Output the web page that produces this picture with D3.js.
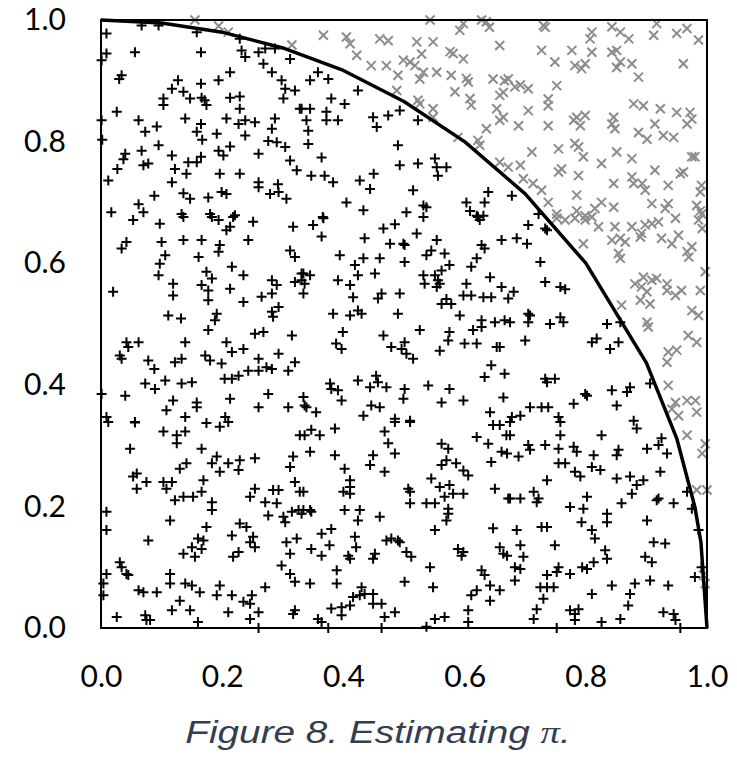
<!DOCTYPE html>
<html>
<head>
<meta charset="utf-8">
<script src="https://cdn.jsdelivr.net/npm/d3@7"></script>
<style>
  body { margin: 0; background: #fff; }
  svg { display: block; }
</style>
</head>
<body>
<svg id="chart"></svg>
<script>
// axis ticks
var xTicks = [0, 0.2, 0.4, 0.6, 0.8, 1.0];
var yTicks = [0, 0.2, 0.4, 0.6, 0.8, 1.0];

// quarter circle line
var curveX = [0, 0.1, 0.2, 0.3, 0.4, 0.5, 0.6, 0.7, 0.8, 0.9, 0.95, 0.98, 0.99, 1.0];
var curveY = [1, 0.995, 0.980, 0.954, 0.917, 0.866, 0.800, 0.714, 0.600, 0.436, 0.312, 0.199, 0.141, 0];

// points inside the circle (black +)
var insidePts = [
  [0.009,0.978],[0.009,0.945],[0.001,0.934],[0.056,0.947],[0.067,0.991],[0.095,0.991],[0.158,0.980],[0.165,0.947],
  [0.229,0.969],[0.232,0.950],[0.238,0.939],[0.260,0.947],[0.271,0.953],[0.287,0.953],[0.268,0.928],[0.282,0.914],
  [0.312,0.936],[0.298,0.901],[0.304,0.887],[0.320,0.884],[0.301,0.871],[0.328,0.854],[0.034,0.909],[0.030,0.903],
  [0.127,0.901],[0.117,0.887],[0.136,0.882],[0.165,0.895],[0.194,0.901],[0.213,0.914],[0.103,0.871],[0.103,0.860],
  [0.147,0.871],[0.166,0.872],[0.171,0.868],[0.174,0.860],[0.213,0.872],[0.229,0.874],[0.229,0.854],[0.026,0.849],
  [0.001,0.835],[0.062,0.835],[0.073,0.816],[0.092,0.825],[0.139,0.838],[0.165,0.829],[0.158,0.816],[0.167,0.803],
  [0.191,0.813],[0.207,0.838],[0.227,0.829],[0.238,0.835],[0.254,0.832],[0.287,0.838],[0.282,0.821],[0.238,0.810],
  [0.276,0.801],[0.290,0.799],[0.304,0.791],[0.002,0.803],[0.040,0.780],[0.037,0.771],[0.067,0.785],[0.078,0.764],
  [0.095,0.794],[0.117,0.777],[0.144,0.766],[0.158,0.766],[0.165,0.775],[0.194,0.785],[0.202,0.777],[0.213,0.792],
  [0.260,0.780],[0.312,0.769],[0.323,0.753],[0.027,0.755],[0.070,0.761],[0.122,0.755],[0.141,0.747],[0.012,0.736],
  [0.117,0.733],[0.196,0.747],[0.229,0.747],[0.260,0.733],[0.260,0.725],[0.292,0.730],[0.293,0.717],[0.306,0.706],
  [0.279,0.714],[0.088,0.711],[0.136,0.715],[0.147,0.706],[0.177,0.708],[0.199,0.717],[0.207,0.714],[0.062,0.697],
  [0.070,0.684],[0.017,0.684],[0.133,0.681],[0.180,0.681],[0.221,0.679],
  [0.345,0.901],[0.358,0.914],[0.375,0.903],[0.424,0.884],[0.380,0.871],[0.402,0.862],[0.331,0.854],[0.345,0.854],
  [0.372,0.849],[0.372,0.835],[0.391,0.835],[0.339,0.835],[0.342,0.818],[0.342,0.796],[0.449,0.840],[0.455,0.824],
  [0.474,0.843],[0.493,0.851],[0.523,0.835],[0.490,0.794],[0.364,0.774],[0.493,0.761],[0.523,0.764],[0.551,0.772],
  [0.554,0.758],[0.570,0.758],[0.556,0.744],[0.347,0.744],[0.369,0.744],[0.383,0.733],[0.427,0.736],[0.444,0.722],
  [0.450,0.747],[0.515,0.720],[0.639,0.717],[0.405,0.700],[0.433,0.687],[0.504,0.684],[0.532,0.695],[0.537,0.692],
  [0.603,0.700],[0.609,0.686],[0.620,0.678],[0.631,0.678],[0.633,0.700],[0.366,0.676],[0.532,0.676],
  [0.678,0.711],[0.722,0.681],
  [0.053,0.671],[0.097,0.665],[0.136,0.676],[0.183,0.676],[0.194,0.671],[0.218,0.676],[0.213,0.660],[0.207,0.654],
  [0.251,0.668],[0.317,0.660],[0.042,0.635],[0.034,0.624],[0.100,0.635],[0.136,0.638],[0.166,0.638],[0.196,0.630],
  [0.194,0.619],[0.243,0.638],[0.312,0.621],[0.320,0.610],[0.106,0.613],[0.097,0.599],[0.161,0.610],[0.216,0.594],
  [0.174,0.586],[0.183,0.575],[0.235,0.580],[0.095,0.580],[0.331,0.583],[0.320,0.569],[0.331,0.572],[0.282,0.572],
  [0.290,0.564],[0.020,0.553],[0.119,0.566],[0.119,0.547],[0.166,0.564],[0.177,0.555],[0.177,0.539],[0.213,0.558],
  [0.235,0.536],[0.265,0.545],[0.282,0.550],[0.293,0.528],[0.282,0.520],[0.284,0.512],[0.111,0.514],[0.132,0.509],
  [0.191,0.517],[0.188,0.506],[0.177,0.490],[0.254,0.484],[0.268,0.487],[0.315,0.481],[0.042,0.470],[0.045,0.462],
  [0.062,0.470],[0.139,0.470],[0.207,0.470],[0.216,0.454],[0.235,0.459],[0.031,0.448],[0.034,0.443],[0.078,0.440],
  [0.088,0.426],[0.122,0.437],[0.133,0.443],[0.172,0.448],[0.180,0.440],[0.199,0.435],[0.260,0.443],[0.260,0.423],
  [0.273,0.429],[0.282,0.426],[0.293,0.451],[0.309,0.423],[0.320,0.437],[0.243,0.423],[0.073,0.402],[0.089,0.393],
  [0.106,0.407],[0.133,0.402],[0.150,0.404],[0.204,0.410],[0.216,0.410],[0.227,0.415],[0.001,0.385],[0.040,0.382],
  [0.119,0.374],[0.108,0.358],[0.158,0.371],[0.158,0.363],[0.213,0.377],[0.276,0.385],[0.260,0.363],[0.309,0.363],
  [0.009,0.347],[0.056,0.338],[0.139,0.347],[0.205,0.347],
  [0.350,0.663],[0.367,0.674],[0.364,0.644],[0.466,0.657],[0.485,0.664],[0.521,0.649],[0.435,0.641],[0.477,0.632],
  [0.499,0.632],[0.501,0.630],[0.622,0.676],[0.625,0.671],[0.554,0.638],[0.545,0.621],[0.537,0.613],[0.567,0.616],
  [0.628,0.630],[0.633,0.624],[0.661,0.638],[0.394,0.613],[0.433,0.608],[0.419,0.597],[0.424,0.580],[0.460,0.608],
  [0.501,0.602],[0.620,0.608],[0.611,0.594],[0.575,0.597],[0.562,0.588],[0.334,0.583],[0.345,0.580],[0.336,0.566],
  [0.334,0.550],[0.391,0.572],[0.411,0.564],[0.452,0.583],[0.532,0.580],[0.534,0.566],[0.551,0.580],[0.556,0.572],
  [0.554,0.561],[0.559,0.566],[0.603,0.566],[0.642,0.577],[0.661,0.561],[0.463,0.550],[0.457,0.542],[0.493,0.550],
  [0.416,0.544],[0.570,0.541],[0.562,0.533],[0.578,0.533],[0.598,0.547],[0.611,0.547],[0.631,0.544],[0.644,0.544],
  [0.383,0.517],[0.411,0.514],[0.424,0.522],[0.430,0.517],[0.490,0.517],[0.592,0.514],[0.628,0.506],[0.628,0.495],
  [0.650,0.503],[0.666,0.506],[0.399,0.487],[0.466,0.481],[0.526,0.490],[0.575,0.487],[0.573,0.473],[0.614,0.490],
  [0.388,0.468],[0.397,0.459],[0.479,0.462],[0.501,0.470],[0.496,0.459],[0.504,0.451],[0.515,0.443],[0.559,0.456],
  [0.600,0.468],[0.620,0.468],[0.653,0.462],[0.658,0.462],[0.644,0.432],[0.633,0.413],[0.666,0.418],[0.454,0.415],
  [0.457,0.404],[0.424,0.407],[0.444,0.396],[0.471,0.396],[0.501,0.393],[0.499,0.377],[0.540,0.399],[0.575,0.393],
  [0.378,0.402],[0.380,0.393],[0.391,0.391],[0.397,0.374],[0.334,0.380],[0.336,0.366],[0.339,0.363],[0.355,0.355],
  [0.446,0.366],[0.460,0.363],[0.433,0.349],[0.562,0.371],[0.598,0.374],[0.664,0.379],[0.485,0.344],[0.510,0.341],
  [0.642,0.355],
  [0.705,0.663],[0.733,0.657],[0.736,0.654],[0.686,0.641],[0.703,0.632],[0.725,0.602],[0.733,0.569],[0.758,0.561],
  [0.766,0.557],[0.681,0.553],[0.672,0.542],[0.705,0.517],[0.705,0.503],[0.708,0.514],[0.675,0.503],[0.741,0.500],
  [0.758,0.511],[0.763,0.503],[0.835,0.500],[0.857,0.503],[0.700,0.473],[0.810,0.470],[0.818,0.476],[0.840,0.459],
  [0.854,0.470],[0.733,0.410],[0.736,0.404],[0.749,0.410],[0.906,0.402],[0.799,0.385],[0.802,0.382],[0.843,0.391],
  [0.868,0.388],[0.873,0.396],[0.780,0.369],[0.851,0.366],[0.708,0.363],[0.727,0.363],[0.738,0.363],[0.678,0.347],
  [0.692,0.349],[0.755,0.347],[0.879,0.341],
  [0.012,0.339],[0.056,0.339],[0.174,0.337],[0.196,0.331],[0.210,0.339],[0.103,0.323],[0.125,0.317],[0.139,0.323],
  [0.125,0.304],[0.328,0.317],[0.048,0.295],[0.166,0.295],[0.130,0.262],[0.141,0.271],[0.183,0.271],[0.191,0.282],
  [0.196,0.257],[0.210,0.271],[0.227,0.260],[0.229,0.276],[0.254,0.279],[0.317,0.282],[0.312,0.265],[0.053,0.249],
  [0.059,0.254],[0.059,0.229],[0.075,0.240],[0.103,0.240],[0.108,0.229],[0.117,0.240],[0.169,0.243],[0.320,0.240],
  [0.328,0.224],[0.122,0.210],[0.136,0.216],[0.152,0.216],[0.166,0.224],[0.254,0.229],[0.246,0.216],[0.284,0.227],
  [0.293,0.227],[0.271,0.207],[0.290,0.205],[0.183,0.207],[0.183,0.194],[0.009,0.191],[0.276,0.185],[0.301,0.183],
  [0.304,0.174],[0.315,0.191],[0.326,0.194],[0.331,0.188],[0.114,0.177],[0.009,0.161],[0.174,0.166],[0.229,0.172],
  [0.240,0.166],[0.216,0.152],[0.078,0.144],[0.160,0.147],[0.169,0.144],[0.150,0.133],[0.166,0.130],[0.136,0.122],
  [0.155,0.117],[0.246,0.141],[0.254,0.133],[0.251,0.150],[0.306,0.141],[0.323,0.147],[0.227,0.125],[0.218,0.117],
  [0.312,0.122],[0.031,0.108],[0.034,0.100],[0.042,0.089],[0.045,0.087],[0.114,0.089],[0.009,0.089],[0.298,0.103],
  [0.312,0.089],[0.004,0.073],[0.004,0.054],[0.114,0.073],[0.139,0.073],[0.150,0.070],[0.196,0.070],[0.271,0.067],
  [0.320,0.076],[0.062,0.062],[0.070,0.059],[0.092,0.059],[0.163,0.059],[0.191,0.054],[0.216,0.054],[0.235,0.043],
  [0.249,0.054],[0.246,0.040],[0.130,0.045],[0.117,0.029],[0.147,0.029],[0.210,0.026],[0.260,0.026],[0.246,0.015],
  [0.320,0.029],[0.317,0.023],[0.026,0.018],[0.073,0.021],[0.075,0.013],[0.081,0.013],[0.160,0.010],[0.260,0.000],
  [0.336,0.317],[0.347,0.326],[0.361,0.317],[0.386,0.328],[0.468,0.323],[0.485,0.339],[0.510,0.339],[0.474,0.304],
  [0.345,0.290],[0.386,0.284],[0.402,0.262],[0.444,0.268],[0.449,0.284],[0.468,0.257],[0.485,0.287],[0.562,0.303],
  [0.573,0.295],[0.620,0.314],[0.639,0.303],[0.647,0.334],[0.658,0.334],[0.661,0.290],[0.669,0.317],[0.644,0.273],
  [0.562,0.268],[0.570,0.276],[0.586,0.271],[0.598,0.259],[0.606,0.251],[0.411,0.243],[0.411,0.232],[0.400,0.224],
  [0.411,0.221],[0.334,0.224],[0.507,0.229],[0.510,0.224],[0.510,0.205],[0.545,0.246],[0.559,0.232],[0.575,0.235],
  [0.567,0.216],[0.581,0.221],[0.598,0.221],[0.537,0.205],[0.551,0.205],[0.650,0.229],[0.672,0.213],[0.334,0.194],
  [0.345,0.194],[0.347,0.191],[0.402,0.194],[0.427,0.194],[0.424,0.177],[0.460,0.183],[0.573,0.196],[0.573,0.188],
  [0.570,0.177],[0.364,0.155],[0.380,0.163],[0.551,0.161],[0.647,0.164],[0.419,0.150],[0.421,0.133],[0.471,0.144],
  [0.479,0.147],[0.490,0.144],[0.493,0.141],[0.347,0.130],[0.364,0.119],[0.377,0.136],[0.408,0.119],[0.411,0.114],
  [0.452,0.122],[0.449,0.114],[0.504,0.125],[0.512,0.117],[0.589,0.130],[0.598,0.125],[0.595,0.119],[0.658,0.133],
  [0.664,0.122],[0.389,0.095],[0.543,0.100],[0.628,0.095],[0.633,0.087],[0.345,0.073],[0.389,0.073],[0.501,0.076],
  [0.548,0.067],[0.430,0.067],[0.416,0.051],[0.427,0.054],[0.435,0.056],[0.449,0.056],[0.449,0.040],[0.463,0.040],
  [0.642,0.070],[0.620,0.062],[0.611,0.054],[0.658,0.062],[0.642,0.045],[0.380,0.032],[0.397,0.034],[0.411,0.037],
  [0.397,0.021],[0.358,0.015],[0.364,0.010],[0.468,0.018],[0.485,0.026],[0.551,0.015],[0.567,0.018],[0.606,0.029],
  [0.606,0.010],[0.375,0.000],[0.463,0.000],[0.537,0.002],
  [0.675,0.339],[0.758,0.339],[0.884,0.328],[0.675,0.317],[0.758,0.317],[0.826,0.317],[0.705,0.301],[0.708,0.293],
  [0.733,0.301],[0.755,0.295],[0.780,0.298],[0.785,0.290],[0.813,0.284],[0.854,0.293],[0.851,0.284],[0.901,0.295],
  [0.920,0.301],[0.925,0.312],[0.934,0.287],[0.670,0.287],[0.689,0.282],[0.755,0.271],[0.766,0.271],[0.782,0.257],
  [0.791,0.249],[0.810,0.265],[0.824,0.260],[0.736,0.243],[0.851,0.246],[0.873,0.249],[0.884,0.235],[0.876,0.221],
  [0.895,0.243],[0.923,0.257],[0.675,0.213],[0.692,0.213],[0.714,0.224],[0.722,0.213],[0.719,0.207],[0.774,0.199],
  [0.796,0.196],[0.802,0.216],[0.835,0.188],[0.835,0.174],[0.859,0.205],[0.917,0.210],[0.920,0.213],[0.945,0.205],
  [0.967,0.224],[0.975,0.196],[0.686,0.161],[0.727,0.166],[0.736,0.166],[0.793,0.174],[0.810,0.161],[0.815,0.147],
  [0.901,0.177],[0.986,0.161],[0.692,0.136],[0.749,0.136],[0.912,0.141],[0.931,0.139],[0.670,0.119],[0.697,0.117],
  [0.832,0.128],[0.835,0.114],[0.898,0.117],[0.909,0.108],[0.683,0.100],[0.692,0.097],[0.683,0.078],[0.736,0.087],
  [0.752,0.092],[0.755,0.100],[0.774,0.089],[0.794,0.100],[0.802,0.097],[0.813,0.108],[0.991,0.100],[0.980,0.084],
  [0.725,0.067],[0.736,0.067],[0.747,0.067],[0.730,0.048],[0.810,0.056],[0.843,0.070],[0.881,0.073],[0.873,0.056],
  [0.870,0.037],[0.906,0.078],[0.936,0.070],[0.719,0.031],[0.714,0.015],[0.774,0.029],[0.782,0.023],[0.788,0.031],
  [0.782,0.013],[0.826,0.010],[0.857,0.015],[0.928,0.026],[0.945,0.023],[0.948,0.013],[0.752,0.000],[0.956,0.000]
];

// points outside the circle (grey x)
var outsidePts = [
  [0.155,1.000],[0.194,0.990],[0.210,0.980],[0.315,0.959],
  [0.543,1.000],[0.367,0.975],[0.405,0.972],[0.411,0.961],[0.460,0.969],[0.474,0.966],[0.521,0.964],[0.548,0.964],
  [0.592,0.983],[0.598,0.994],[0.628,1.000],[0.636,0.997],[0.641,0.988],[0.658,0.958],[0.422,0.942],[0.446,0.925],
  [0.471,0.925],[0.499,0.934],[0.510,0.931],[0.529,0.944],[0.518,0.925],[0.576,0.948],[0.581,0.945],[0.598,0.936],
  [0.490,0.909],[0.532,0.914],[0.526,0.903],[0.554,0.914],[0.578,0.909],[0.603,0.904],[0.606,0.898],[0.647,0.903],
  [0.666,0.900],[0.488,0.884],[0.584,0.882],[0.609,0.871],[0.611,0.860],[0.658,0.876],[0.664,0.881],[0.523,0.868],
  [0.526,0.862],[0.548,0.854],[0.548,0.840],[0.653,0.854],[0.658,0.835],[0.664,0.840],[0.636,0.821],[0.589,0.807],
  [0.622,0.802],[0.625,0.794],[0.658,0.766],
  [0.730,0.991],[0.733,0.988],[0.810,0.980],[0.807,0.969],[0.843,0.989],[0.857,0.980],[0.871,0.969],[0.917,0.994],
  [0.912,0.975],[0.950,0.978],[0.967,0.986],[0.986,0.967],[0.727,0.950],[0.777,0.950],[0.810,0.947],[0.843,0.947],
  [0.851,0.950],[0.749,0.931],[0.782,0.925],[0.793,0.920],[0.799,0.928],[0.851,0.922],[0.857,0.931],[0.876,0.928],
  [0.887,0.906],[0.961,0.928],[0.672,0.903],[0.683,0.890],[0.692,0.893],[0.705,0.887],[0.752,0.892],[0.738,0.870],
  [0.738,0.859],[0.879,0.862],[0.895,0.859],[0.923,0.854],[0.950,0.848],[0.972,0.848],[0.975,0.837],[0.967,0.829],
  [0.705,0.851],[0.689,0.826],[0.738,0.826],[0.780,0.835],[0.785,0.840],[0.799,0.843],[0.791,0.826],[0.846,0.840],
  [0.843,0.829],[0.848,0.821],[0.914,0.829],[0.887,0.815],[0.901,0.804],[0.928,0.810],[0.945,0.807],[0.711,0.783],
  [0.755,0.788],[0.782,0.797],[0.788,0.791],[0.796,0.775],[0.851,0.783],[0.876,0.772],[0.826,0.764],[0.975,0.775],
  [0.980,0.775],[0.672,0.758],[0.692,0.761],[0.755,0.750],[0.760,0.755],[0.788,0.744],[0.914,0.753],[0.956,0.747],
  [0.961,0.750],[0.697,0.739],[0.713,0.731],[0.727,0.720],[0.846,0.731],[0.876,0.742],[0.879,0.731],[0.893,0.731],
  [0.898,0.720],[0.936,0.728],[0.991,0.728],[0.989,0.717],[0.738,0.700],[0.785,0.712],[0.826,0.700],[0.815,0.690],
  [0.846,0.692],[0.752,0.681],[0.785,0.686],[0.799,0.678],[0.909,0.698],[0.931,0.690],[0.936,0.698],[0.983,0.695],
  [0.989,0.686],[0.991,0.681],
  [0.752,0.674],[0.766,0.671],[0.782,0.674],[0.799,0.671],[0.810,0.676],[0.821,0.660],[0.848,0.660],[0.876,0.660],
  [0.898,0.663],[0.909,0.665],[0.920,0.668],[0.948,0.674],[0.986,0.671],[0.992,0.657],[0.796,0.632],[0.843,0.638],
  [0.857,0.641],[0.865,0.635],[0.892,0.649],[0.890,0.643],[0.925,0.641],[0.942,0.632],[0.953,0.646],[0.975,0.627],
  [0.967,0.619],[0.970,0.610],[0.854,0.616],[0.857,0.608],[0.997,0.586],[0.895,0.577],[0.881,0.566],[0.892,0.561],
  [0.901,0.553],[0.909,0.572],[0.917,0.575],[0.934,0.566],[0.934,0.555],[0.948,0.547],[0.958,0.555],[0.890,0.539],
  [0.906,0.533],[0.989,0.555],[0.859,0.531],[0.975,0.522],[0.986,0.514],[0.901,0.503],[0.903,0.495],[0.969,0.481],
  [0.983,0.470],[0.936,0.454],[0.950,0.457],[0.934,0.437],[0.936,0.399],[0.948,0.371],[0.967,0.374],[0.981,0.374],
  [0.983,0.355],[0.942,0.360],[0.953,0.349],
  [0.967,0.317],[0.997,0.303],[0.992,0.287],[0.983,0.227],[1.000,0.227],[0.994,0.087],[0.997,0.073]
];

var width = 737, height = 769;
var margin = {top: 20, left: 101, right: 30, bottom: 141};
var plotW = 606, plotH = 608;

var svg = d3.select("#chart")
    .attr("width", width)
    .attr("height", height);

var g = svg.append("g")
    .attr("transform", "translate(" + margin.left + "," + margin.top + ")");

var x = d3.scaleLinear().domain([0, 1]).range([0, plotW]);
var y = d3.scaleLinear().domain([0, 1]).range([plotH, 0]);

// grey crosses
g.append("g").selectAll("path")
    .data(outsidePts)
    .join("path")
    .attr("transform", function (d) { return "translate(" + x(d[0]) + "," + y(d[1]) + ")"; })
    .attr("d", "M-4.5,-4.5L4.5,4.5M-4.5,4.5L4.5,-4.5")
    .attr("stroke", "#8c8c8c")
    .attr("stroke-width", 2)
    .attr("fill", "none");

// black pluses
g.append("g").selectAll("path")
    .data(insidePts)
    .join("path")
    .attr("transform", function (d) { return "translate(" + x(d[0]) + "," + y(d[1]) + ")"; })
    .attr("d", "M-5,0H5M0,-5V5")
    .attr("stroke", "#000")
    .attr("stroke-width", 2)
    .attr("fill", "none");

// quarter circle
var line = d3.line()
    .x(function (d, i) { return x(d); })
    .y(function (d, i) { return y(curveY[i]); });

g.append("path")
    .datum(curveX)
    .attr("d", line)
    .attr("fill", "none")
    .attr("stroke", "#000")
    .attr("stroke-width", 3.5)
    .attr("stroke-linejoin", "round");

// plot frame
g.append("rect")
    .attr("x", 0).attr("y", 0)
    .attr("width", plotW).attr("height", plotH)
    .attr("fill", "none")
    .attr("stroke", "#000")
    .attr("stroke-width", 2);

// axes (labels only)
var xAxis = g.append("g")
    .attr("transform", "translate(0," + plotH + ")")
    .call(d3.axisBottom(x).tickValues(xTicks).tickFormat(d3.format(".1f")).tickSize(0).tickPadding(38));
var yAxis = g.append("g")
    .call(d3.axisLeft(y).tickValues(yTicks).tickFormat(d3.format(".1f")).tickSize(0).tickPadding(35));

[xAxis, yAxis].forEach(function (a) {
    a.select(".domain").remove();
    a.selectAll("text")
        .attr("fill", "#000")
        .style("font-family", "Lato, 'Open Sans', sans-serif")
        .style("font-size", "30px");
});

// caption (wide italic, stretched horizontally to match)
var cap = svg.append("text")
    .attr("transform", "translate(378,743) scale(1.25,1)")
    .attr("text-anchor", "middle")
    .attr("fill", "#333f50")
    .style("font-family", "'Liberation Sans', Arial, sans-serif")
    .style("font-style", "italic")
    .style("font-size", "31px");
cap.append("tspan").text("Figure 8. Estimating ");
cap.append("tspan").style("font-family", "'Liberation Serif', 'Times New Roman', serif").text("π");
cap.append("tspan").text(".");
</script>
</body>
</html>
